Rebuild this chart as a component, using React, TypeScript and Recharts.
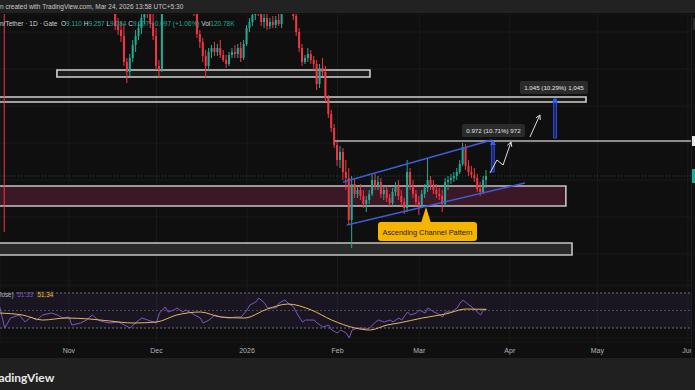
import React from 'react';
import {
  ComposedChart, Bar, Line, XAxis, YAxis, CartesianGrid,
  ReferenceArea, ReferenceLine, ReferenceDot,
} from 'recharts';

// ---------- data ----------
const candleDays = [9,
  47,48,49,50,51,52,53,54,55,56,57,58,59,60,61,62,63,64,65,66,
  67,68,69,70,71,72,73,74,75,76,77,78,79,80,81,82,83,84,85,86,
  87,88,89,90,91,92,93,94,95,96,97,98,99,100,101,102,103,104,105,106,
  107,108,109,110,111,112,113,114,115,116,117,118,119,120,121,122,123,124,125,126,
  127,128,129,130,131,132,133,134,135,136,137,138,139,140,141,142,143,144,145,146,
  147,148,149,150,151,152,153,154,155,156,157,158,159,160,161,162,163,164,165,166,
  167,168,169,170,171,172,173,174];

const openPrices = [15.72,
  12.68,12.20,12.12,12.00,11.48,11.28,11.56,11.82,12.00,12.16,
  12.36,12.52,12.44,12.24,12.00,11.40,11.32,12.52,12.72,12.88,
  13.02,13.12,13.08,12.96,13.04,12.92,12.84,12.76,12.48,12.04,
  11.88,11.60,11.40,11.68,11.76,11.68,11.76,11.62,11.52,11.44,
  11.62,11.68,11.64,11.76,11.56,11.84,12.16,12.28,12.42,12.52,
  12.44,12.28,12.36,12.20,12.28,12.22,12.32,12.24,12.60,12.72,
  12.80,12.68,12.40,12.08,11.76,11.48,11.56,11.64,11.52,11.44,
  11.04,11.36,11.28,10.76,10.44,10.16,9.82,9.52,9.68,9.28,
  9.16,8.32,9.04,8.84,8.92,8.80,8.64,8.72,8.84,9.12,
  9.00,9.08,8.84,8.92,8.76,8.66,8.88,9.00,8.80,8.68,
  8.56,9.28,9.00,8.84,8.68,8.60,8.84,8.96,9.12,9.00,
  8.92,8.84,8.80,8.64,9.08,9.12,9.16,9.20,9.28,9.44,
  9.78,9.40,9.28,9.22,9.16,8.94,8.88,9.12];

const highPrices = [16.72,
  12.82,12.36,12.28,12.22,11.56,11.64,11.92,12.12,12.28,12.48,
  12.62,12.68,12.62,12.44,12.16,11.52,12.62,12.82,12.96,13.12,
  13.22,13.32,13.28,13.16,13.22,13.08,13.00,12.88,12.56,12.12,
  11.96,11.72,11.76,11.82,11.88,11.84,11.92,11.72,11.62,11.68,
  11.76,11.82,11.84,11.88,11.92,12.22,12.36,12.48,12.62,12.64,
  12.56,12.44,12.48,12.36,12.40,12.40,12.44,12.64,12.84,12.88,
  12.88,12.80,12.52,12.16,11.84,11.62,11.76,11.72,11.60,11.52,
  11.44,11.56,11.40,10.82,10.52,10.24,9.92,9.80,9.76,9.52,
  9.36,9.20,9.16,9.00,9.04,8.92,8.80,8.92,9.22,9.24,
  9.20,9.16,9.00,9.00,8.84,8.96,9.08,9.12,8.92,8.76,
  9.52,9.36,9.12,8.92,8.80,8.92,9.04,9.56,9.20,9.12,
  9.04,8.96,8.92,9.16,9.20,9.24,9.28,9.36,9.52,9.86,
  9.84,9.52,9.40,9.36,9.24,9.08,9.20,9.32];

const lowPrices = [8.08,
  12.12,12.02,11.88,11.40,11.06,11.20,11.48,11.68,11.92,12.04,
  12.24,12.36,12.16,11.92,11.32,11.16,11.28,12.44,12.64,12.76,
  12.92,12.96,12.88,12.82,12.88,12.76,12.68,12.40,11.96,11.76,
  11.48,11.16,11.32,11.56,11.60,11.60,11.56,11.48,11.36,11.40,
  11.56,11.56,11.56,11.48,11.52,11.80,12.08,12.20,12.32,12.40,
  12.20,12.16,12.12,12.14,12.16,12.16,12.20,12.16,12.52,12.60,
  12.60,12.32,12.00,11.68,11.40,11.44,11.48,11.44,11.32,10.92,
  10.96,11.20,10.68,10.36,10.08,9.76,9.40,9.36,9.12,8.92,
  8.24,7.76,8.76,8.76,8.72,8.56,8.48,8.64,8.80,8.92,
  8.92,8.76,8.72,8.68,8.60,8.60,8.80,8.72,8.60,8.44,
  8.48,8.92,8.76,8.60,8.42,8.56,8.76,8.88,8.92,8.84,
  8.76,8.72,8.48,8.60,8.92,9.04,9.08,9.12,9.24,9.40,
  9.32,9.20,9.16,9.08,8.88,8.80,8.84,8.96];

const closePrices = [14.72,
  12.20,12.12,12.00,11.48,11.28,11.56,11.82,12.00,12.16,12.36,
  12.52,12.44,12.24,12.00,11.40,11.32,12.52,12.72,12.88,13.02,
  13.12,13.08,12.96,13.04,12.92,12.84,12.76,12.48,12.04,11.88,
  11.60,11.40,11.68,11.76,11.68,11.76,11.62,11.52,11.44,11.62,
  11.68,11.64,11.76,11.56,11.84,12.16,12.28,12.42,12.52,12.44,
  12.28,12.36,12.20,12.28,12.22,12.32,12.24,12.60,12.72,12.80,
  12.68,12.40,12.08,11.76,11.48,11.56,11.64,11.52,11.44,11.04,
  11.36,11.28,10.76,10.44,10.16,9.82,9.52,9.68,9.28,9.16,
  8.32,9.04,8.84,8.92,8.80,8.64,8.72,8.84,9.12,9.00,
  9.08,8.84,8.92,8.76,8.66,8.88,9.00,8.80,8.68,8.56,
  9.28,9.00,8.84,8.68,8.60,8.84,8.96,9.12,9.00,8.92,
  8.84,8.80,8.64,9.08,9.12,9.16,9.20,9.28,9.44,9.78,
  9.40,9.28,9.22,9.16,8.94,8.88,9.12,9.20];

const rsiDays = [7,9,11,14,16,18,20,22,25,27,29,31,32,35,37,39,41,43,45,48,
  50,52,53,55,56,58,61,62,64,65,67,68,70,71,73,74,76,77,79,81,
  83,86,88,90,92,93,95,96,98,99,102,103,105,106,108,109,111,112,115,116,
  118,120,121,123,124,126,127,128,130,131,133,134,136,137,139,141,142,144,145,147,
  148,150,151,153,154,156,157,159,160,162,164,165,166,168,169,172,173,174];
const rsiValues = [58.6,30,41.4,44.9,36.9,42.6,39.1,44.9,47.1,44.9,41.4,42.6,33.4,35.7,39.1,44.9,39.1,36.9,35.7,36.9,
  33.4,30,33.4,39.1,41.4,39.1,35.7,47.1,54,48.3,50.6,52.9,48.3,50.6,47.1,44.9,41.4,35.7,39.1,44.9,
  42.6,41.4,42.6,42.6,50.6,56.3,59.7,64.3,58.6,52.9,52.9,58.6,62,58.6,54,47.1,36.9,39.1,39.1,35.7,
  31.1,33.4,27.7,24.3,27.7,24.3,18.6,27.7,30,30,28.9,30,36.9,39.1,36.9,39.1,36.9,41.4,39.1,48.3,
  44.9,47.1,50.6,47.1,52.9,48.3,47.1,42.6,48.3,48.3,52.9,58.6,62,56.3,54,44.9,50.6,51.33];

const maDays = [7,15,22,30,38,45,53,61,68,76,83,91,99,106,114,121,129,134,140,144,152,160,167,174];
const maValues = [47.1,44.9,39.1,41.4,40.3,38,35.7,36.9,44.9,48.3,42.6,41.4,51.7,57.4,50.6,39.1,30,27.7,33.4,35.7,41.4,46,51.7,51.34];

const monthTicks = [31, 61, 92, 123, 151, 182, 212, 243];
const monthLabels = ['Nov', 'Dec', '2026', 'Feb', 'Mar', 'Apr', 'May', 'Jun'];
const priceGrid = [7.27, 7.64, 8.01, 8.38, 8.75, 9.12, 9.49, 9.86, 10.23, 10.6, 10.97, 11.34, 11.71, 12.08];

// drawings (day, price)
const box1 = { x1: 26.9, x2: 134.1, y1: 11.18, y2: 11.32 };
const box2 = { x1: 0, x2: 208.1, y1: 10.68, y2: 10.78 };
const zone = { x1: 0, x2: 201.2, y1: 8.6, y2: 9.0 };
const box5 = { x1: 0, x2: 203.3, y1: 7.62, y2: 7.86 };
const targetLine = { x1: 122.1, x2: 244.4, y: 9.9 };
const channelUpper = [{ x: 124.9, y: 9.08 }, { x: 175.9, y: 9.92 }];
const channelLower = [{ x: 126.2, y: 8.22 }, { x: 187.2, y: 9.06 }];
const measure1 = { x: 176.2, y1: 9.28, y2: 9.9, label: '0.972 (10.71%) 972', lx: 176.4, ly: 10.11, w: 63 };
const measure2 = { x: 197.5, y1: 9.96, y2: 10.74, label: '1.045 (10.29%) 1,045', lx: 197.1, ly: 10.97, w: 68 };
const arrowPath1 = [{ x: 175.2, y: 9.26 }, { x: 177.6, y: 9.52 }, { x: 179.7, y: 9.42 }, { x: 182.4, y: 9.88 }];
const arrowPath2 = [{ x: 188.9, y: 9.98 }, { x: 192.3, y: 10.42 }];
const calloutPoint = { x: 153.3, y: 8.58, text: 'Ascending Channel Pattern' };

const X_DOMAIN: [number, number] = [7.4, 244.4];
const PRICE_DOMAIN: [number, number] = [7.02, 12.44];
const RSI_DOMAIN: [number, number] = [14, 84.86];

const GREEN = '#22ab94';
const RED = '#f23645';
const FONT = "'Liberation Sans', Arial, sans-serif";

const candles = candleDays.map((d, i) => ({ d, o: openPrices[i], h: highPrices[i], l: lowPrices[i], c: closePrices[i] }));
const rsiData = rsiDays.map((d, i) => ({ d, v: rsiValues[i] }));
const maData = maDays.map((d, i) => ({ d, v: maValues[i] }));
const lastClose = closePrices[closePrices.length - 1];

function Candle(props: any) {
  const { x, y, width, height, payload } = props;
  if (!payload || x == null || y == null) return null;
  const { o, h, l, c } = payload;
  const top = Math.min(y, y + height);
  const span = Math.abs(height);
  const k = span / (h - l);
  const bodyTop = top + (h - Math.max(o, c)) * k;
  const bodyBot = top + (h - Math.min(o, c)) * k;
  const color = c >= o ? GREEN : RED;
  const cx = x + width / 2;
  return (
    <g>
      <line x1={cx} x2={cx} y1={top} y2={top + span} stroke={color} strokeWidth={1} />
      <rect x={x} y={bodyTop} width={width} height={Math.max(1, bodyBot - bodyTop)} fill={color} />
    </g>
  );
}

const tagShape = (text: string, w: number) => (p: any) => (
  <g>
    <rect x={p.cx - w / 2} y={p.cy - 6.5} width={w} height={13} rx={2} fill="#2b2b2b" />
    <text x={p.cx} y={p.cy + 2.3} textAnchor="middle" fontSize={6.2} fill="#e6e6e6" fontFamily={FONT}>{text}</text>
  </g>
);

const calloutShape = (text: string) => (p: any) => (
  <g>
    <path d={`M${p.cx},${p.cy} L${p.cx - 5},${p.cy + 16} L${p.cx + 5},${p.cy + 16} Z`} fill="#f6b400" />
    <rect x={p.cx - 48} y={p.cy + 15} width={99} height={19} rx={3} fill="#f6b400" />
    <text x={p.cx + 1.5} y={p.cy + 27.5} textAnchor="middle" fontSize={7.4} fill="#1b1b1b" fontFamily={FONT}>{text}</text>
  </g>
);

const arrowHeadShape = (dx: number, dy: number, color: string) => (p: any) => {
  const a = Math.atan2(dy, dx);
  const L = 5;
  const x1 = p.cx + L * Math.cos(a + Math.PI - 0.5);
  const y1 = p.cy + L * Math.sin(a + Math.PI - 0.5);
  const x2 = p.cx + L * Math.cos(a + Math.PI + 0.5);
  const y2 = p.cy + L * Math.sin(a + Math.PI + 0.5);
  return <polyline points={`${x1},${y1} ${p.cx},${p.cy} ${x2},${y2}`} fill="none" stroke={color} strokeWidth={1} />;
};

const upTriangle = (p: any) => (
  <path d={`M${p.cx},${p.cy - 1} L${p.cx - 3},${p.cy + 4} L${p.cx + 3},${p.cy + 4} Z`} fill="#2f5bff" />
);

function segs(path: { x: number; y: number }[]) {
  const out: any[] = [];
  for (let i = 0; i < path.length - 1; i++) out.push([path[i], path[i + 1]]);
  return out;
}

export default function App() {
  return (
    <div style={{ position: 'fixed', left: 0, top: 0, width: 695, height: 390, background: '#0f0f0f', overflow: 'hidden', fontFamily: FONT }}>
      {/* price pane */}
      <div style={{ position: 'absolute', left: 0, top: 14, width: 692, height: 271, overflow: 'hidden' }}>
        <ComposedChart width={692} height={271} data={candles} margin={{ top: 0, right: 0, bottom: 0, left: 0 }}>
          <CartesianGrid stroke="#1a1a1a" strokeWidth={1} />
          <XAxis dataKey="d" type="number" domain={X_DOMAIN} allowDataOverflow ticks={monthTicks} hide />
          <YAxis type="number" domain={PRICE_DOMAIN} allowDataOverflow ticks={priceGrid} hide />
          <ReferenceArea x1={box1.x1} x2={box1.x2} y1={box1.y1} y2={box1.y2} ifOverflow="hidden" fill="#ffffff" fillOpacity={0.05} stroke="#cfcfcf" strokeWidth={1.6} />
          <ReferenceArea x1={box2.x1} x2={box2.x2} y1={box2.y1} y2={box2.y2} ifOverflow="hidden" fill="#ffffff" fillOpacity={0.05} stroke="#cfcfcf" strokeWidth={1.6} />
          <ReferenceArea x1={zone.x1} x2={zone.x2} y1={zone.y1} y2={zone.y2} ifOverflow="hidden" fill="#3a1826" fillOpacity={1} stroke="#c4c4c4" strokeWidth={1.6} />
          <ReferenceArea x1={box5.x1} x2={box5.x2} y1={box5.y1} y2={box5.y2} ifOverflow="hidden" fill="#2a2a2a" fillOpacity={1} stroke="#c4c4c4" strokeWidth={1.6} />
          <ReferenceLine y={lastClose} stroke={GREEN} strokeOpacity={0.45} strokeDasharray="1 2" ifOverflow="hidden" />
          <ReferenceLine segment={[{ x: targetLine.x1, y: targetLine.y }, { x: targetLine.x2, y: targetLine.y }]} stroke="#8c8c8c" strokeWidth={2} ifOverflow="hidden" />
          <Bar dataKey={(e: any) => [e.l, e.h]} barSize={2} shape={Candle} isAnimationActive={false} />
          <ReferenceLine segment={channelUpper} stroke="#3f5bdc" strokeWidth={1.3} ifOverflow="hidden" />
          <ReferenceLine segment={channelLower} stroke="#3f5bdc" strokeWidth={1.3} ifOverflow="hidden" />
          <ReferenceArea x1={measure1.x - 0.5} x2={measure1.x + 0.5} y1={measure1.y1} y2={measure1.y2} ifOverflow="hidden" fill="#1b2563" fillOpacity={1} stroke="#2f5bff" strokeWidth={0.8} />
          <ReferenceArea x1={measure2.x - 0.5} x2={measure2.x + 0.5} y1={measure2.y1} y2={measure2.y2} ifOverflow="hidden" fill="#1b2563" fillOpacity={1} stroke="#2f5bff" strokeWidth={0.8} />
          <ReferenceDot x={measure1.x} y={measure1.y2} r={1} shape={upTriangle} />
          <ReferenceDot x={measure2.x} y={measure2.y2} r={1} shape={upTriangle} />
          {segs(arrowPath1).map((s, i) => (
            <ReferenceLine key={'a1' + i} segment={s} stroke="#dedede" strokeWidth={1} ifOverflow="hidden" />
          ))}
          {segs(arrowPath2).map((s, i) => (
            <ReferenceLine key={'a2' + i} segment={s} stroke="#dedede" strokeWidth={1} ifOverflow="hidden" />
          ))}
          <ReferenceDot x={arrowPath1[3].x} y={arrowPath1[3].y} r={1} shape={arrowHeadShape(8, -23, '#dedede')} />
          <ReferenceDot x={arrowPath2[1].x} y={arrowPath2[1].y} r={1} shape={arrowHeadShape(10, -22, '#dedede')} />
          <ReferenceDot x={measure1.lx} y={measure1.ly} r={1} shape={tagShape(measure1.label, measure1.w)} />
          <ReferenceDot x={measure2.lx} y={measure2.ly} r={1} shape={tagShape(measure2.label, measure2.w)} />
          <ReferenceDot x={calloutPoint.x} y={calloutPoint.y} r={1} shape={calloutShape(calloutPoint.text)} />
        </ComposedChart>
      </div>

      {/* legend of price pane */}
      <div style={{ position: 'absolute', left: 0, top: 19, fontSize: 6.5, color: '#cfd2d8', whiteSpace: 'nowrap', lineHeight: '9px' }}>
        n/Tether · 1D · Gate&nbsp;&nbsp;O<span style={{ color: GREEN }}>9.110</span> H<span style={{ color: GREEN }}>9.257</span> L<span style={{ color: GREEN }}>9.084</span> C<span style={{ color: GREEN }}>9.207</span> <span style={{ color: GREEN }}>+0.097 (+1.06%)</span> Vol<span style={{ color: GREEN }}>120.78K</span>
      </div>

      {/* RSI pane + time axis */}
      <div style={{ position: 'absolute', left: 0, top: 280, width: 692, height: 78, overflow: 'hidden' }}>
        <ComposedChart width={692} height={78} margin={{ top: 0, right: 0, bottom: 0, left: 0 }}>
          <CartesianGrid stroke="#1a1a1a" strokeWidth={1} />
          <XAxis dataKey="d" type="number" domain={X_DOMAIN} allowDataOverflow ticks={monthTicks} interval={0}
            tickFormatter={(v: number) => monthLabels[monthTicks.indexOf(v)]}
            axisLine={false} tickLine={false} height={16} tickMargin={0}
            tick={{ fill: '#b2b5be', fontSize: 7, fontFamily: FONT }} />
          <YAxis type="number" domain={RSI_DOMAIN} allowDataOverflow ticks={[18.6, 78]} hide />
          <ReferenceArea y1={30} y2={70} ifOverflow="hidden" fill="#7e57c2" fillOpacity={0.1} />
          <ReferenceLine y={70} stroke="#6d6f7a" strokeDasharray="2 2" />
          <ReferenceLine y={50} stroke="#4d4f5a" strokeDasharray="2 2" />
          <ReferenceLine y={30} stroke="#6d6f7a" strokeDasharray="2 2" />
          <Line data={rsiData} dataKey="v" type="linear" stroke="#7e57c2" strokeWidth={1} dot={false} isAnimationActive={false} />
          <Line data={maData} dataKey="v" type="monotone" stroke="#e6b85c" strokeWidth={1} dot={false} isAnimationActive={false} />
        </ComposedChart>
      </div>

      {/* RSI legend */}
      <div style={{ position: 'absolute', left: 0, top: 291, fontSize: 6.3, whiteSpace: 'nowrap', lineHeight: '8px', color: '#b2b5be' }}>
        lose)&nbsp;&nbsp;<span style={{ color: '#7e57c2' }}>51.33</span>&nbsp;&nbsp;<span style={{ color: '#e6b85c', background: '#2a2418', padding: '0 1px' }}>51.34</span>
      </div>

      {/* right price-scale edge */}
      <div style={{ position: 'absolute', left: 691, top: 14, width: 1, height: 344, background: '#1e1e1e' }} />
      <div style={{ position: 'absolute', left: 692, top: 136, width: 3, height: 10, background: '#e8e8e8' }} />
      <div style={{ position: 'absolute', left: 692, top: 169, width: 3, height: 14, background: GREEN }} />
      <div style={{ position: 'absolute', left: 693, top: 18, width: 2, height: 12, background: '#2c2c2c' }} />

      {/* top bar */}
      <div style={{ position: 'absolute', left: 0, top: 0, width: 695, height: 13, background: '#222222', color: '#c9c9c9', fontSize: 6.5, lineHeight: '13px', whiteSpace: 'nowrap' }}>
        n created with TradingView.com, Mar 24, 2026 13:58 UTC+5:30
      </div>

      {/* bottom bar */}
      <div style={{ position: 'absolute', left: 0, top: 358, width: 695, height: 32, background: '#202020' }}>
        <div style={{ position: 'absolute', left: -12, top: 12, fontSize: 12, fontWeight: 700, color: '#e8e8e8', whiteSpace: 'nowrap', fontFamily: "'Lato', 'Liberation Sans', sans-serif" }}>TradingView</div>
      </div>
    </div>
  );
}
